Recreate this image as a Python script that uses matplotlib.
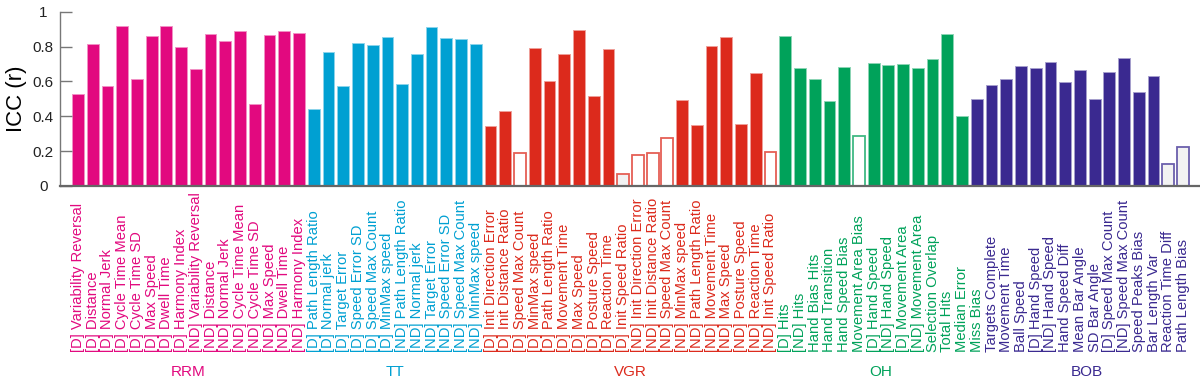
import matplotlib
matplotlib.use('Agg')
import matplotlib.pyplot as plt
import matplotlib.colors as mcolors
import matplotlib.transforms as mtransforms

plt.rcParams['font.family'] = ['Liberation Sans', 'DejaVu Sans']

# group names and colours
groups = ['RRM', 'TT', 'VGR', 'OH', 'BOB']
group_colors = {'RRM': '#E2097F', 'TT': '#00A0D2', 'VGR': '#DC2A1C', 'OH': '#00A25A', 'BOB': '#3A2990'}

rrm_labels = ['[D] Variability Reversal', '[D] Distance', '[D] Normal Jerk', '[D] Cycle Time Mean',
              '[D] Cycle Time SD', '[D] Max Speed', '[D] Dwell Time', '[D] Harmony Index',
              '[ND] Variability Reversal', '[ND] Distance', '[ND] Normal Jerk', '[ND] Cycle Time Mean',
              '[ND] Cycle Time SD', '[ND] Max Speed', '[ND] Dwell Time', '[ND] Harmony Index']
rrm_icc = [0.526, 0.815, 0.574, 0.918, 0.612, 0.860, 0.918, 0.797,
           0.673, 0.874, 0.830, 0.887, 0.470, 0.866, 0.887, 0.876]
rrm_hollow = []

tt_labels = ['[D] Path Length Ratio', '[D] Normal jerk', '[D] Target Error', '[D] Speed Error SD',
             '[D] Speed Max Count', '[D] MinMax speed', '[ND] Path Length Ratio', '[ND] Normal jerk',
             '[ND] Target Error', '[ND] Speed Error SD', '[ND] Speed Max Count', '[ND] MinMax speed']
tt_icc = [0.442, 0.767, 0.576, 0.818, 0.811, 0.857, 0.587, 0.759, 0.914, 0.849, 0.841, 0.816]
tt_hollow = []

vgr_labels = ['[D] Init Direction Error', '[D] Init Distance Ratio', '[D] Speed Max Count',
              '[D] MinMax speed', '[D] Path Length Ratio', '[D] Movement Time', '[D] Max Speed',
              '[D] Posture Speed', '[D] Reaction Time', '[D] Init Speed Ratio',
              '[ND] Init Direction Error', '[ND] Init Distance Ratio', '[ND] Speed Max Count',
              '[ND] MinMax speed', '[ND] Path Length Ratio', '[ND] Movement Time', '[ND] Max Speed',
              '[ND] Posture Speed', '[ND] Reaction Time', '[ND] Init Speed Ratio']
vgr_icc = [0.346, 0.430, 0.191, 0.790, 0.602, 0.759, 0.893, 0.516, 0.786, 0.067,
           0.176, 0.189, 0.275, 0.491, 0.352, 0.801, 0.853, 0.358, 0.648, 0.197]
vgr_hollow = [2, 9, 10, 11, 12, 19]

oh_labels = ['[D] Hits', '[ND] Hits', 'Hand Bias Hits', 'Hand Transition', 'Hand Speed Bias',
             'Movement Area Bias', '[D] Hand Speed', '[ND] Hand Speed', '[D] Movement Area',
             '[ND] Movement Area', 'Selection Overlap', 'Total Hits', 'Median Error', 'Miss Bias']
oh_icc = [0.860, 0.675, 0.614, 0.489, 0.683, 0.287, 0.706, 0.692, 0.698, 0.675, 0.727, 0.872, 0.400, 0.501]
oh_hollow = [5]

bob_labels = ['Targets Complete', 'Movement Time', 'Ball Speed', '[D] Hand Speed', '[ND] Hand Speed',
              'Hand Speed Diff', 'Mean Bar Angle', 'SD Bar Angle', '[D] Speed Max Count',
              '[ND] Speed Max Count', 'Speed Peaks Bias', 'Bar Length Var', 'Reaction Time Diff',
              'Path Length Bias']
bob_icc = [0.581, 0.614, 0.690, 0.679, 0.713, 0.595, 0.663, 0.497, 0.654, 0.732, 0.539, 0.631, 0.128, 0.226]
bob_hollow = [12, 13]

# in the original the 'Miss Bias' bar is drawn in the BOB colour
bar_color_override = {'Miss Bias': 'BOB'}
grey_filled = ['[D] Init Speed Ratio', 'Reaction Time Diff', 'Path Length Bias']

group_data = {
    'RRM': (rrm_labels, rrm_icc, rrm_hollow),
    'TT': (tt_labels, tt_icc, tt_hollow),
    'VGR': (vgr_labels, vgr_icc, vgr_hollow),
    'OH': (oh_labels, oh_icc, oh_hollow),
    'BOB': (bob_labels, bob_icc, bob_hollow),
}


def lighter(c, amount=0.5):
    r, g, b = mcolors.to_rgb(c)
    return (r + (1 - r) * amount, g + (1 - g) * amount, b + (1 - b) * amount)


fig = plt.figure(figsize=(12, 3.85), dpi=100)
ax = fig.add_axes([0.05, 0.5169, 0.95, 0.4527])

pos = 0
group_centers = {}
label_info = []
for g in groups:
    labels, vals, hollow = group_data[g]
    start = pos
    for k, (lab, v) in enumerate(zip(labels, vals)):
        col = group_colors[bar_color_override.get(lab, g)]
        if k in hollow:
            fill = '#f2f2f2' if lab in grey_filled else 'white'
            ax.bar(pos, v, width=0.8, facecolor=fill, edgecolor=lighter(col, 0.25), linewidth=1.3)
        else:
            ax.bar(pos, v, width=0.8, color=col, edgecolor=lighter(col, 0.55), linewidth=0.7)
        label_info.append((pos, lab, group_colors[g]))
        pos += 1
    group_centers[g] = (start + pos - 1) / 2

ax.set_xlim(-1.22, pos - 1 + 1.15)
ax.set_ylim(0, 1)
ax.set_yticks([0, 0.2, 0.4, 0.6, 0.8, 1])
ax.set_yticklabels(['0', '0.2', '0.4', '0.6', '0.8', '1'])
ax.set_xticks([])
ax.tick_params(axis='y', direction='in', length=8.5, width=1, color='#777777',
               labelsize=11, pad=12, labelcolor='#222222')
for t in ax.get_yticklabels():
    t.set_horizontalalignment('center')
ax.set_ylabel('ICC (r)', fontsize=16, labelpad=4)

for side in ['top', 'right']:
    ax.spines[side].set_visible(False)
ax.spines['left'].set_color('#777777')
ax.spines['left'].set_linewidth(1)
ax.spines['bottom'].set_color('#666666')
ax.spines['bottom'].set_linewidth(1.6)

trans = mtransforms.blended_transform_factory(ax.transData, fig.transFigure)
for x, lab, col in label_info:
    ax.text(x, 0.0857, lab, transform=trans, rotation=90, rotation_mode='anchor',
            ha='left', va='center', fontsize=10.6, color=col, clip_on=False)

for g in groups:
    ax.text(group_centers[g], 0.034, g, transform=trans, ha='center', va='center',
            fontsize=11, color=group_colors[g], clip_on=False)

fig.savefig('out.png', dpi=100)
